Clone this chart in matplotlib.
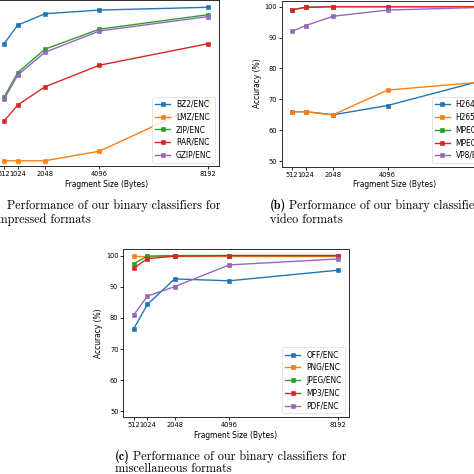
import matplotlib
matplotlib.use("Agg")
import matplotlib.pyplot as plt

# ---------------- data ----------------
sizes = [512, 1024, 2048, 4096, 8192]
size_labels = ["512", "1024", "2048", "4096", "8192"]
yticks = [50, 60, 70, 80, 90, 100]

# (a) compressed formats
a_labels = ["BZ2/ENC", "LMZ/ENC", "ZIP/ENC", "RAR/ENC", "GZIP/ENC"]
a_bz2 = [88.0, 94.0, 97.7, 98.9, 99.8]
a_lmz = [50.0, 50.0, 50.0, 53.1, 69.4]
a_zip = [70.6, 78.6, 86.2, 92.7, 97.4]
a_rar = [62.9, 68.1, 74.0, 81.0, 88.0]
a_gzip = [70.0, 77.8, 85.2, 92.1, 96.8]

# (b) video formats
b_labels = ["H264/ENC", "H265/ENC", "MPEG2/ENC", "MPEG4/ENC", "VP8/ENC"]
b_h264 = [66.0, 66.0, 65.0, 68.0, 77.3]
b_h265 = [66.0, 66.0, 65.0, 73.0, 76.0]
b_mpeg2 = [99.0, 99.8, 100.0, 100.0, 100.0]
b_mpeg4 = [99.0, 99.8, 100.0, 100.0, 100.0]
b_vp8 = [92.0, 93.9, 96.9, 98.9, 99.9]

# (c) miscellaneous formats
c_labels = ["OFF/ENC", "PNG/ENC", "JPEG/ENC", "MP3/ENC", "PDF/ENC"]
c_off = [76.5, 84.3, 92.5, 91.9, 95.3]
c_png = [100.0, 100.0, 100.0, 100.0, 100.0]
c_jpeg = [97.4, 99.8, 100.0, 100.0, 100.0]
c_mp3 = [95.9, 99.0, 99.8, 100.0, 100.0]
c_pdf = [80.9, 87.0, 90.0, 97.0, 98.9]

captions = [
    ("(a)", "Performance of our binary classifiers for", "compressed formats"),
    ("(b)", "Performance of our binary classifiers for", "video formats"),
    ("(c)", "Performance of our binary classifiers for", "miscellaneous formats"),
]

DPI = 45
W = H = 474
fig = plt.figure(figsize=(W / DPI, H / DPI), dpi=DPI)
fig.patch.set_facecolor("white")


def px_rect(l, r, t, b):
    return [l / W, 1 - b / H, (r - l) / W, (b - t) / H]


def panel(rect, series, labels, ylabel=True):
    ax = fig.add_axes(rect)
    for vals, lab in zip(series, labels):
        ax.plot(sizes, vals, marker="s", label=lab, linewidth=2.2, markersize=7)
    ax.set_xticks(sizes)
    ax.set_xticklabels(size_labels)
    ax.set_yticks(yticks)
    ax.tick_params(labelsize=10.5, width=1.3, length=4.5)
    for s in ax.spines.values():
        s.set_linewidth(1.6)
        s.set_edgecolor("#333333")
    ax.set_ylim(48.2, 102.0)
    ax.set_xlim(128, 8576)
    ax.set_xlabel("Fragment Size (Bytes)", fontsize=12)
    if ylabel:
        ax.set_ylabel("Accuracy (%)", fontsize=12)
    ax.legend(loc="lower right", fontsize=12)
    return ax


panel(px_rect(-6.1, 218.5, 0.5, 166.3), [a_bz2, a_lmz, a_zip, a_rar, a_gzip], a_labels)
panel(px_rect(282.0, 506.7, 0.5, 166.7), [b_h264, b_h265, b_mpeg2, b_mpeg4, b_vp8], b_labels)
panel(px_rect(123.5, 348.5, 249.3, 417.0), [c_off, c_png, c_jpeg, c_mp3, c_pdf], c_labels)

cap_pos = [(-14.0, 7.0, 209.5, 223.0), (270.3, 288.7, 209.5, 223.0), (115.0, 133.4, 460.0, 471.5)]
for (tag, l1, l2), (x0, x1, y1, y2) in zip(captions, cap_pos):
    fig.text(x0 / W, 1 - y1 / H, tag, family="cmb10", fontsize=19.5, va="baseline", ha="left")
    fig.text(x1 / W, 1 - y1 / H, l1, family="cmr10", fontsize=19.5, va="baseline", ha="left")
    fig.text(x0 / W, 1 - y2 / H, l2, family="cmr10", fontsize=19.5, va="baseline", ha="left")

fig.savefig("out.png", dpi=DPI, facecolor="white")
